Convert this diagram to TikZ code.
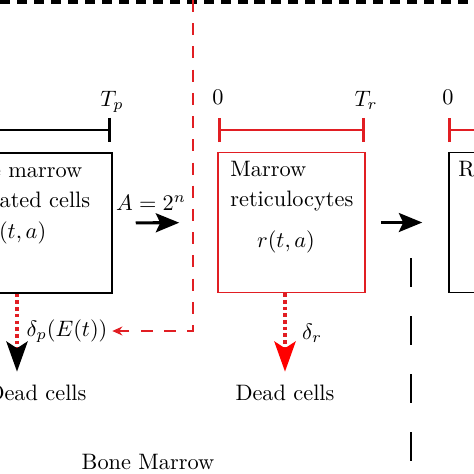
\documentclass[tikz,border=0pt]{standalone}
\usepackage{tikz}
\usetikzlibrary{arrows.meta}
\usepackage{amsmath, amssymb}
\definecolor{marrowred}{RGB}{225,30,35}

\begin{document}
\begin{tikzpicture}[x=0.448pt,y=-0.448pt,
cellbox/.style={draw,line width=0.7pt,inner sep=0pt,minimum width=65.9pt,minimum height=62.7pt},
interval/.style={line width=1pt,{Bar[width=10.8pt,line width=1.4pt]}-{Bar[width=10.8pt,line width=1.4pt]}},
flow/.style={line width=1.4pt,-{Stealth[length=10.5pt,width=8.5pt,inset=2pt]}},
death/.style={marrowred,line width=1.8pt,dash pattern=on 1.6pt off 1.4pt,-{Stealth[length=13.5pt,width=9.5pt,inset=3pt,color=#1]}},
feedback/.style={marrowred,line width=0.9pt,dash pattern=on 5.4pt off 5pt,-{Stealth[length=4.5pt,width=4pt]}}]
\useasboundingbox (0,0) rectangle (474,474);
\clip (0,0) rectangle (474,474);
\draw[line width=3.6pt,dash pattern=on 4.5pt off 3.1pt] (0,0) -- (474,0);
% compartments
\node[cellbox,minimum width=85.1pt] (prolif) at (17,223) {};
\node[cellbox,draw=marrowred] (retic) at (291.5,222.5) {};
\node[cellbox] (blood) at (522.5,222.5) {};
\node[align=center] (ptxt) at (17,203) {Bone marrow\\[1.5pt] Untreated cells\\[2pt] $p(t,a)$};
\node[anchor=north west,align=left] (rtxt) at (222.5,153) {Marrow\\[1.5pt] reticulocytes};
\node (rfun) at (286,242) {$r(t,a)$};
\node[anchor=north west] (btxt) at (450.6,153) {Reticulocytes};
% age intervals
\draw[interval] (-78,130) -- (111,130);
\draw[interval,marrowred] (218,130) -- (365,130);
\draw[interval,marrowred] (448,130) -- (595,130);
\node[anchor=base] (tp) at (112,106) {$T_p$};
\node[anchor=base] (r0) at (218,104) {$0$};
\node[anchor=base] (tr) at (366,106) {$T_r$};
\node[anchor=base] (b0) at (448,104) {$0$};
% maturation
\draw[flow,shorten <=10.3pt,shorten >=17pt] (prolif.east) -- (retic.west);
\node (amp) at (151,203) {$A=2^n$};
\draw[flow,shorten <=6.7pt,shorten >=11.6pt] (retic.east) -- (blood.west);
\draw[line width=1pt,dash pattern=on 13pt off 13pt] (411,258) -- (411,480);
% death
\node (dead1) at (37,393) {Dead cells};
\node (dead2) at (285,393) {Dead cells};
\draw[death=black,shorten >=2.5pt] (prolif.south) -- (prolif.south |- dead1.north);
\draw[death=red,shorten >=2.5pt] (retic.south -| dead2) -- (dead2);
\node[inner sep=2pt] (dp) at (67,331) {$\delta_p(E(t))$};
\node (dr) at (312,333) {$\delta_r$};
\coordinate (epo) at (193,0);
\draw[feedback] (epo) |- (dp);
\node[anchor=base] (bm) at (148,469) {Bone Marrow};
\end{tikzpicture}
\end{document}
